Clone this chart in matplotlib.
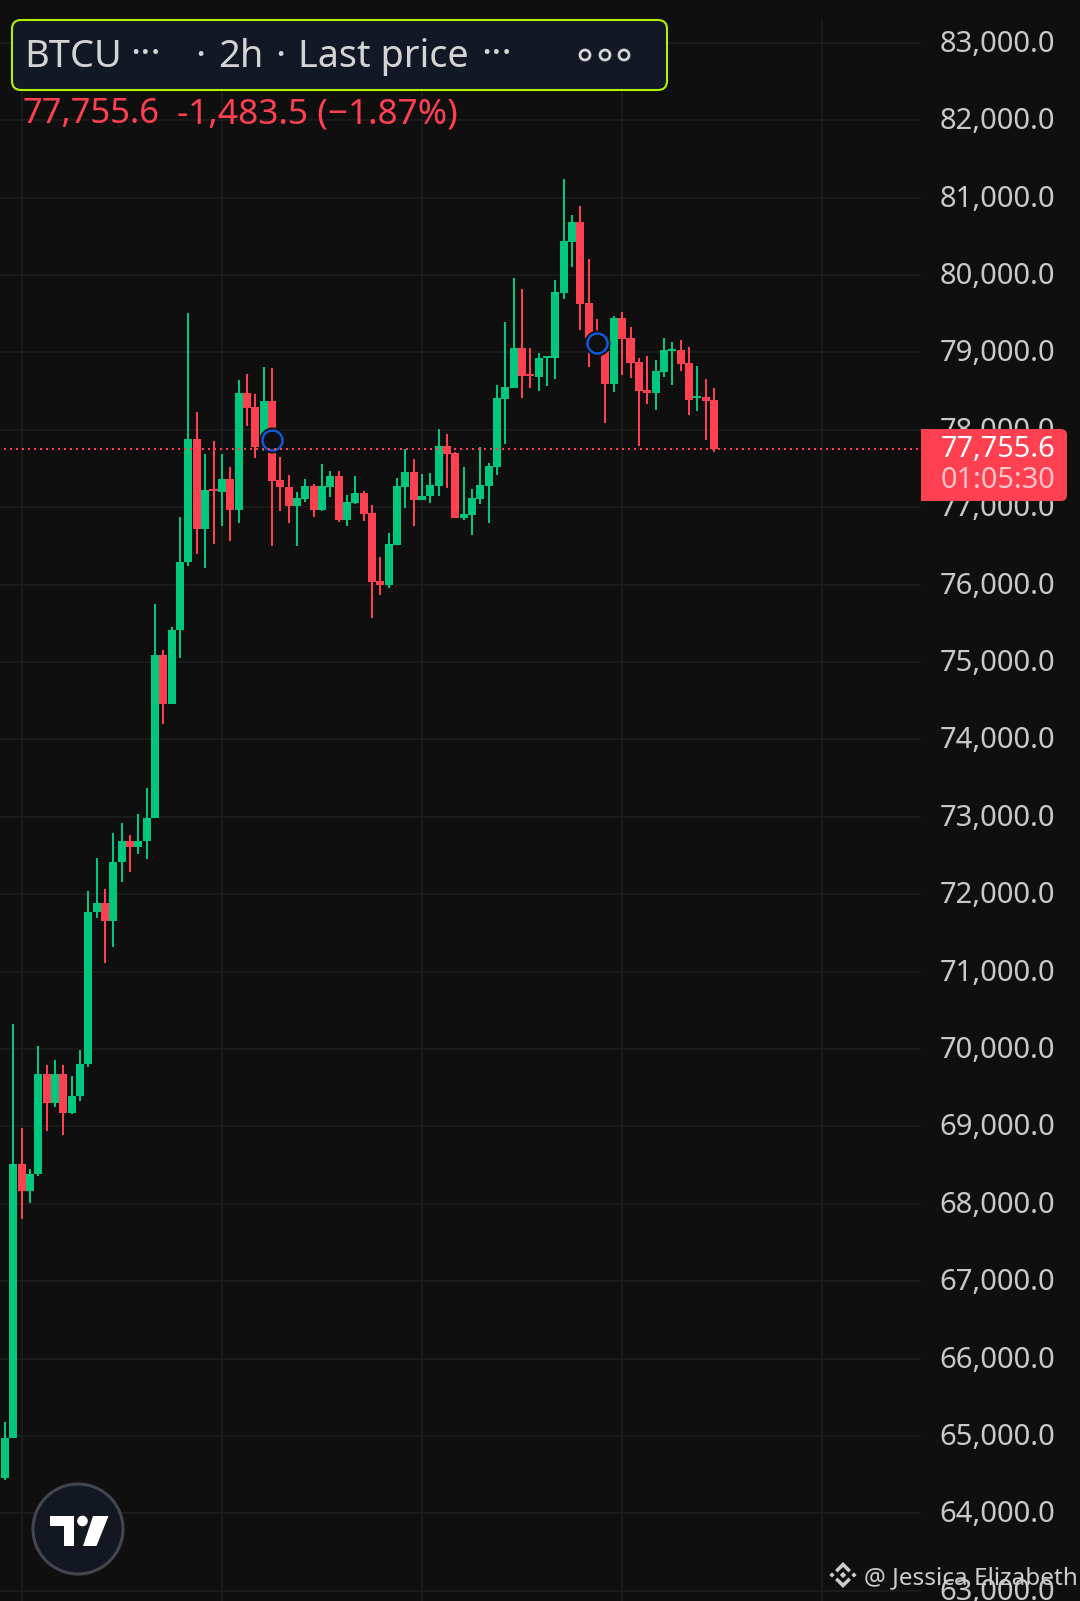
import matplotlib
matplotlib.use("Agg")
import matplotlib.pyplot as plt
from matplotlib.patches import Circle, FancyBboxPatch, Polygon, Rectangle
from matplotlib.transforms import ScaledTranslation

# candles, 2h BTCUSDT
opens = [64460, 64975, 68520, 68162, 68387, 69683, 69299, 69683, 69170, 69390,
         69805, 71770, 71892, 71651, 72422, 72693, 72607, 72693, 72990, 75096,
         74463, 75419, 76298, 77887, 76724, 77241, 77202, 77370, 76970, 78481,
         78300, 77822, 78378, 77357, 77267, 77021, 77112, 77280, 76970, 77267,
         77409, 76841, 77060, 77189, 76931, 76052, 76001, 76518, 77267, 77461,
         77099, 77151, 77280, 77797, 77706, 76866, 76905, 77112, 77280, 77525,
         78404, 78546, 79063, 78727, 78688, 78934, 78934, 79773, 80432, 80691,
         79644, 79218, 79024, 78598, 79450, 79192, 78882, 78520, 78481, 78753,
         79024, 79037, 78869, 78417, 78430, 78391]
closes = [64976, 68520, 68162, 68387, 69683, 69299, 69683, 69170, 69399, 69812,
          71776, 71892, 71651, 72422, 72693, 72607, 72693, 72990, 75096, 74463,
          75419, 76298, 77887, 76724, 77228, 77215, 77370, 76970, 78481, 78288,
          77784, 78378, 77344, 77267, 77021, 77125, 77280, 76970, 77280, 77409,
          76841, 77073, 77189, 76918, 76039, 76001, 76530, 77280, 77461, 77099,
          77151, 77293, 77797, 77693, 76866, 76918, 77125, 77293, 77538, 78417,
          78559, 79063, 78701, 78701, 78934, 78959, 79786, 80445, 80691, 79631,
          79192, 78998, 78598, 79450, 79179, 78869, 78507, 78481, 78766, 79037,
          79050, 78856, 78391, 78443, 78378, 77755.6]
highs = [65187, 70329, 68981, 68452, 70045, 69799, 69864, 69799, 69657, 69993,
         72047, 72474, 72073, 72797, 72926, 72771, 73042, 73378, 75755, 75161,
         75458, 76879, 79515, 78236, 77693, 77861, 77693, 77525, 78649, 78727,
         78468, 78817, 78804, 77654, 77422, 77202, 77370, 77306, 77564, 77474,
         77474, 77164, 77409, 77215, 77034, 76362, 76673, 77383, 77758, 77629,
         77435, 77448, 78016, 77952, 77719, 77525, 77241, 77784, 77577, 78585,
         79399, 79967, 79825, 79063, 78998, 78959, 79941, 81246, 80781, 80897,
         80213, 79437, 79024, 79476, 79528, 79334, 78934, 78959, 78908, 79192,
         79140, 79166, 79076, 78830, 78662, 78546]
lows = [64437, 64971, 67800, 68007, 68356, 68946, 69247, 68886, 69157, 69325,
        69764, 71689, 71108, 71315, 72154, 72284, 72516, 72452, 72990, 74205,
        74463, 75058, 76246, 76401, 76220, 76530, 76763, 76569, 76802, 78055,
        77642, 77732, 76505, 76957, 76802, 76505, 77073, 76879, 76957, 77138,
        76815, 76763, 77047, 76828, 75574, 75872, 75962, 76518, 76996, 76763,
        77099, 77060, 77151, 77254, 76866, 76841, 76647, 77047, 76802, 77422,
        77822, 78546, 78417, 78546, 78507, 78572, 78662, 79696, 80109, 79295,
        78817, 78959, 78094, 78494, 78714, 78675, 77797, 78339, 78262, 78688,
        78585, 78766, 78197, 78249, 77874, 77719]
price_ticks = list(range(63000, 84000, 1000))
date_ticks = [2, 26, 50, 74, 98]
marker_bars = [32, 71]
marker_prices = [77862, 79115]
last_price = 77755.6

BG = "#0f0f0f"
GRID = "#1a1a1a"
GREEN = "#00c77e"
RED = "#ff4050"
LABEL = "#c9c9c9"
PLOT_W = 921
FONT = ["Noto Sans", "DejaVu Sans"]

plt.rcParams["font.family"] = FONT

fig = plt.figure(figsize=(10.8, 16.01), dpi=100, facecolor=BG)
ax = fig.add_axes([0, 0, PLOT_W / 1080, 1], facecolor=BG)
ax.set_xlim(-5 / 8.34, (PLOT_W - 5) / 8.34)
ax.set_ylim(62868, 83553)
for s in ax.spines.values():
    s.set_visible(False)

ax.set_xticks(date_ticks)
ax.set_xticklabels([])
ax.set_yticks(price_ticks)
ax.set_yticklabels([f"{p:,.1f}" for p in price_ticks], va="center_baseline")
ax.yaxis.tick_right()
ax.tick_params(axis="both", length=0)
ax.tick_params(axis="y", pad=13.5, labelsize=21, labelcolor=LABEL)
ax.grid(True, color=GRID, lw=1.44, zorder=0)
ax.set_axisbelow(True)

# labels sit a touch above their grid line
up = ScaledTranslation(0, 2 / 100, fig.dpi_scale_trans)
for lab in ax.get_yticklabels():
    lab.set_transform(lab.get_transform() + up)

xs = list(range(len(opens)))
colors = [GREEN if c >= o else RED for o, c in zip(opens, closes)]
ax.vlines(xs, lows, highs, colors=colors, lw=1.44, zorder=2, snap=True)
ax.bar(xs, [abs(c - o) for o, c in zip(opens, closes)],
       bottom=[min(o, c) for o, c in zip(opens, closes)],
       width=0.96, color=colors, lw=0, zorder=3)

# event markers knock out the candles under them
mx = [xs[i] for i in marker_bars]
ax.plot(mx, marker_prices, ls="", marker="o", ms=18.7, mfc=BG, mec="none", zorder=4)
ax.plot(mx, marker_prices, ls="", marker="o", ms=14.4, mfc=BG, mec="#0d5ce0", mew=1.7, zorder=5)
ax.axhline(last_price, color=RED, lw=1.44, ls=(1, (1, 2)), zorder=6)

# overlay in pixels for the toolbar, price tag and logos
ov = fig.add_axes([0, 0, 1, 1], facecolor="none")
ov.set_xlim(0, 1080)
ov.set_ylim(1601, 0)
ov.axis("off")

# the date grid starts a little below the top edge
ov.add_patch(Rectangle((0, 0), PLOT_W, 19, fc=BG, ec="none"))

ov.add_patch(FancyBboxPatch((12, 20), 655, 70, boxstyle="round,pad=0,rounding_size=9",
                            fc="#131826", ec="#b2f000", lw=1.5))
HEAD = "#d4d4d4"
ov.text(24, 67, "BTCU", color=HEAD, fontsize=27.4)
ov.text(130, 65, "···", color=HEAD, fontsize=27.4)
ov.text(195, 67, "·", color=HEAD, fontsize=27.4)
ov.text(218, 67, "2h", color=HEAD, fontsize=27.4)
ov.text(275, 67, "·", color=HEAD, fontsize=27.4)
ov.text(298, 67, "Last price", color=HEAD, fontsize=27.2)
ov.text(481, 65, "···", color=HEAD, fontsize=27.4)
for cx in [585, 605, 624]:
    ov.add_patch(Circle((cx, 55), 5, fc="none", ec=HEAD, lw=2.0))

ov.text(23, 123, "77,755.6", color=RED, fontsize=24.9)
ov.text(177, 123, "-1,483.5 (−1.87%)", color=RED, fontsize=25.4)

# price tag, rounded on the right only
ov.add_patch(FancyBboxPatch((921, 429), 146, 72, boxstyle="round,pad=0,rounding_size=6",
                            fc=RED, ec="none"))
ov.add_patch(Rectangle((921, 429), 20, 72, fc=RED, ec="none"))
ov.text(941, 457, "77,755.6", color="white", fontsize=20.8)
ov.text(941, 488, "01:05:30", color="#ffc4c9", fontsize=20.8)

# TradingView badge
ov.add_patch(Circle((78, 1529), 45, fc="#131722", ec="#434651", lw=2.2))
ov.add_patch(Polygon([(50, 1516), (74, 1516), (74, 1546), (63.5, 1546), (63.5, 1526), (50, 1526)],
                     fc="white", ec="none"))
ov.add_patch(Circle((82.5, 1521), 5.3, fc="white", ec="none"))
ov.add_patch(Polygon([(93, 1516), (108.5, 1516), (96.5, 1546), (83, 1546)], fc="white", ec="none"))

# watermark
WM = "#cccccc"
LOGO_X, LOGO_Y = 843, 1575
for dx, r in [(0, 3.2), (-11, 2.6), (11, 2.6)]:
    ov.add_patch(Polygon([(LOGO_X + dx, LOGO_Y - r), (LOGO_X + dx + r, LOGO_Y),
                          (LOGO_X + dx, LOGO_Y + r), (LOGO_X + dx - r, LOGO_Y)], fc=WM, ec="none"))
for sgn in [-1, 1]:
    ov.add_patch(Polygon([(LOGO_X, LOGO_Y + sgn * 13), (LOGO_X + 8, LOGO_Y + sgn * 5),
                          (LOGO_X + 5.5, LOGO_Y + sgn * 2.5), (LOGO_X, LOGO_Y + sgn * 8),
                          (LOGO_X - 5.5, LOGO_Y + sgn * 2.5), (LOGO_X - 8, LOGO_Y + sgn * 5)],
                         fc=WM, ec="none"))
ov.text(864, 1584, "@ Jessica Elizabeth", color=WM, fontsize=17.5)

fig.savefig("out.png", dpi=100, facecolor=BG)
